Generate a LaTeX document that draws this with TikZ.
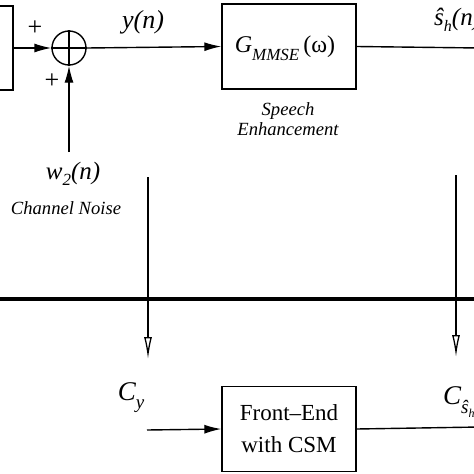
\documentclass[tikz,border=0pt]{standalone}
\usepackage{fontspec}
\setmainfont{Liberation Serif}
\usetikzlibrary{arrows.meta}
\tikzset{
  blk/.style={draw, line width=1.4pt, minimum width=134pt, minimum height=85pt, inner sep=0pt},
  sumc/.style={draw, circle, line width=1.4pt, minimum size=34pt, inner sep=0pt},
  conn/.style={line width=1.4pt},
  fa/.style={-{Latex[length=17pt,width=9pt]}},
  oa/.style={-{Latex[open,length=22pt,width=8pt,line width=1.3pt]}},
  lbl/.style={inner sep=0pt, font=\fontsize{26}{28}\selectfont\itshape},
  small/.style={inner sep=0pt, font=\fontsize{18.6}{20}\selectfont\itshape, align=center},
  pl/.style={inner sep=0pt, font=\fontsize{26}{26}\selectfont}
}
\begin{document}
\begin{tikzpicture}[x=1pt,y=-1pt]
\useasboundingbox (0,0) rectangle (474,474);
% left box (cut off)
\draw[conn] (-20,6) -- (13,6) -- (13,90) -- (-20,90);
\coordinate (lb) at (13,48);
\node[sumc] (sum) at (69,48) {};
\draw[conn] (sum.north) -- (sum.south) (sum.west) -- (sum.east);
\node[blk] (g) at (289,46.5) {};
\node[inner sep=0pt] (gl) at (285,48) {\fontsize{24}{24}\selectfont\itshape G\raisebox{-8pt}{\fontsize{17}{18}\selectfont MMSE}\,\upshape(ω)};
\node[small] (sp) at (288,119) {Speech\\Enhancement};
\coordinate (rout) at (480,48);
\draw[conn,fa] (lb) -- (sum.west);
\draw[conn,fa] (sum.east) -- (g.west);
\draw[conn] (g.east) -- (rout);
\coordinate (wn) at (69,152);
\draw[conn,fa] (wn) -- (sum.south);
\node[pl] (p1) at (35,28) {+};
\node[pl] (p2) at (52,81) {+};
\node[lbl] (yn) at (143,22) {y(n)};
\node[lbl, font=\fontsize{25}{26}\selectfont\itshape] (w2) at (73,174) {w\raisebox{-6pt}{\fontsize{17}{18}\selectfont 2}(n)};
\node[small] (cn) at (66,208) {Channel Noise};
\node[lbl, anchor=base west] (sh) at (434,25) {\fontsize{25}{26}\selectfont\itshape\raisebox{0pt}{ŝ}\raisebox{-6pt}{\fontsize{16}{18}\selectfont h}(n)};
% thick line
\coordinate (tl) at (-5,299);
\coordinate (tr) at (480,299);
\draw[line width=4pt] (tl) -- (tr);
% vertical arrows
\coordinate (v1a) at (148,177);
\coordinate (v1b) at (148,359);
\coordinate (v2a) at (456,175);
\coordinate (v2b) at (456,357);
\draw[conn,oa] (v1a) -- (v1b);
\draw[conn,oa] (v2a) -- (v2b);
% front end
\node[blk, align=center, font=\fontsize{23}{32}\selectfont] (fe) at (289,429) {Front–End\\with CSM};
\coordinate (cin) at (147,430);
\draw[conn,fa] (cin) -- (fe.west);
\coordinate (fout) at (480,427);
\draw[conn] (fe.east) -- (fout);
\node[lbl, font=\fontsize{27}{28}\selectfont\itshape] (cy) at (131,398) {C\raisebox{-8pt}{\fontsize{19}{20}\selectfont y}};
\node[lbl, anchor=base west, font=\fontsize{27}{28}\selectfont\itshape] (cs) at (443,404) {C\raisebox{-9pt}{\fontsize{19}{20}\selectfont ŝ\raisebox{-4pt}{\fontsize{12}{12}\selectfont h}}};
\end{tikzpicture}
\end{document}
